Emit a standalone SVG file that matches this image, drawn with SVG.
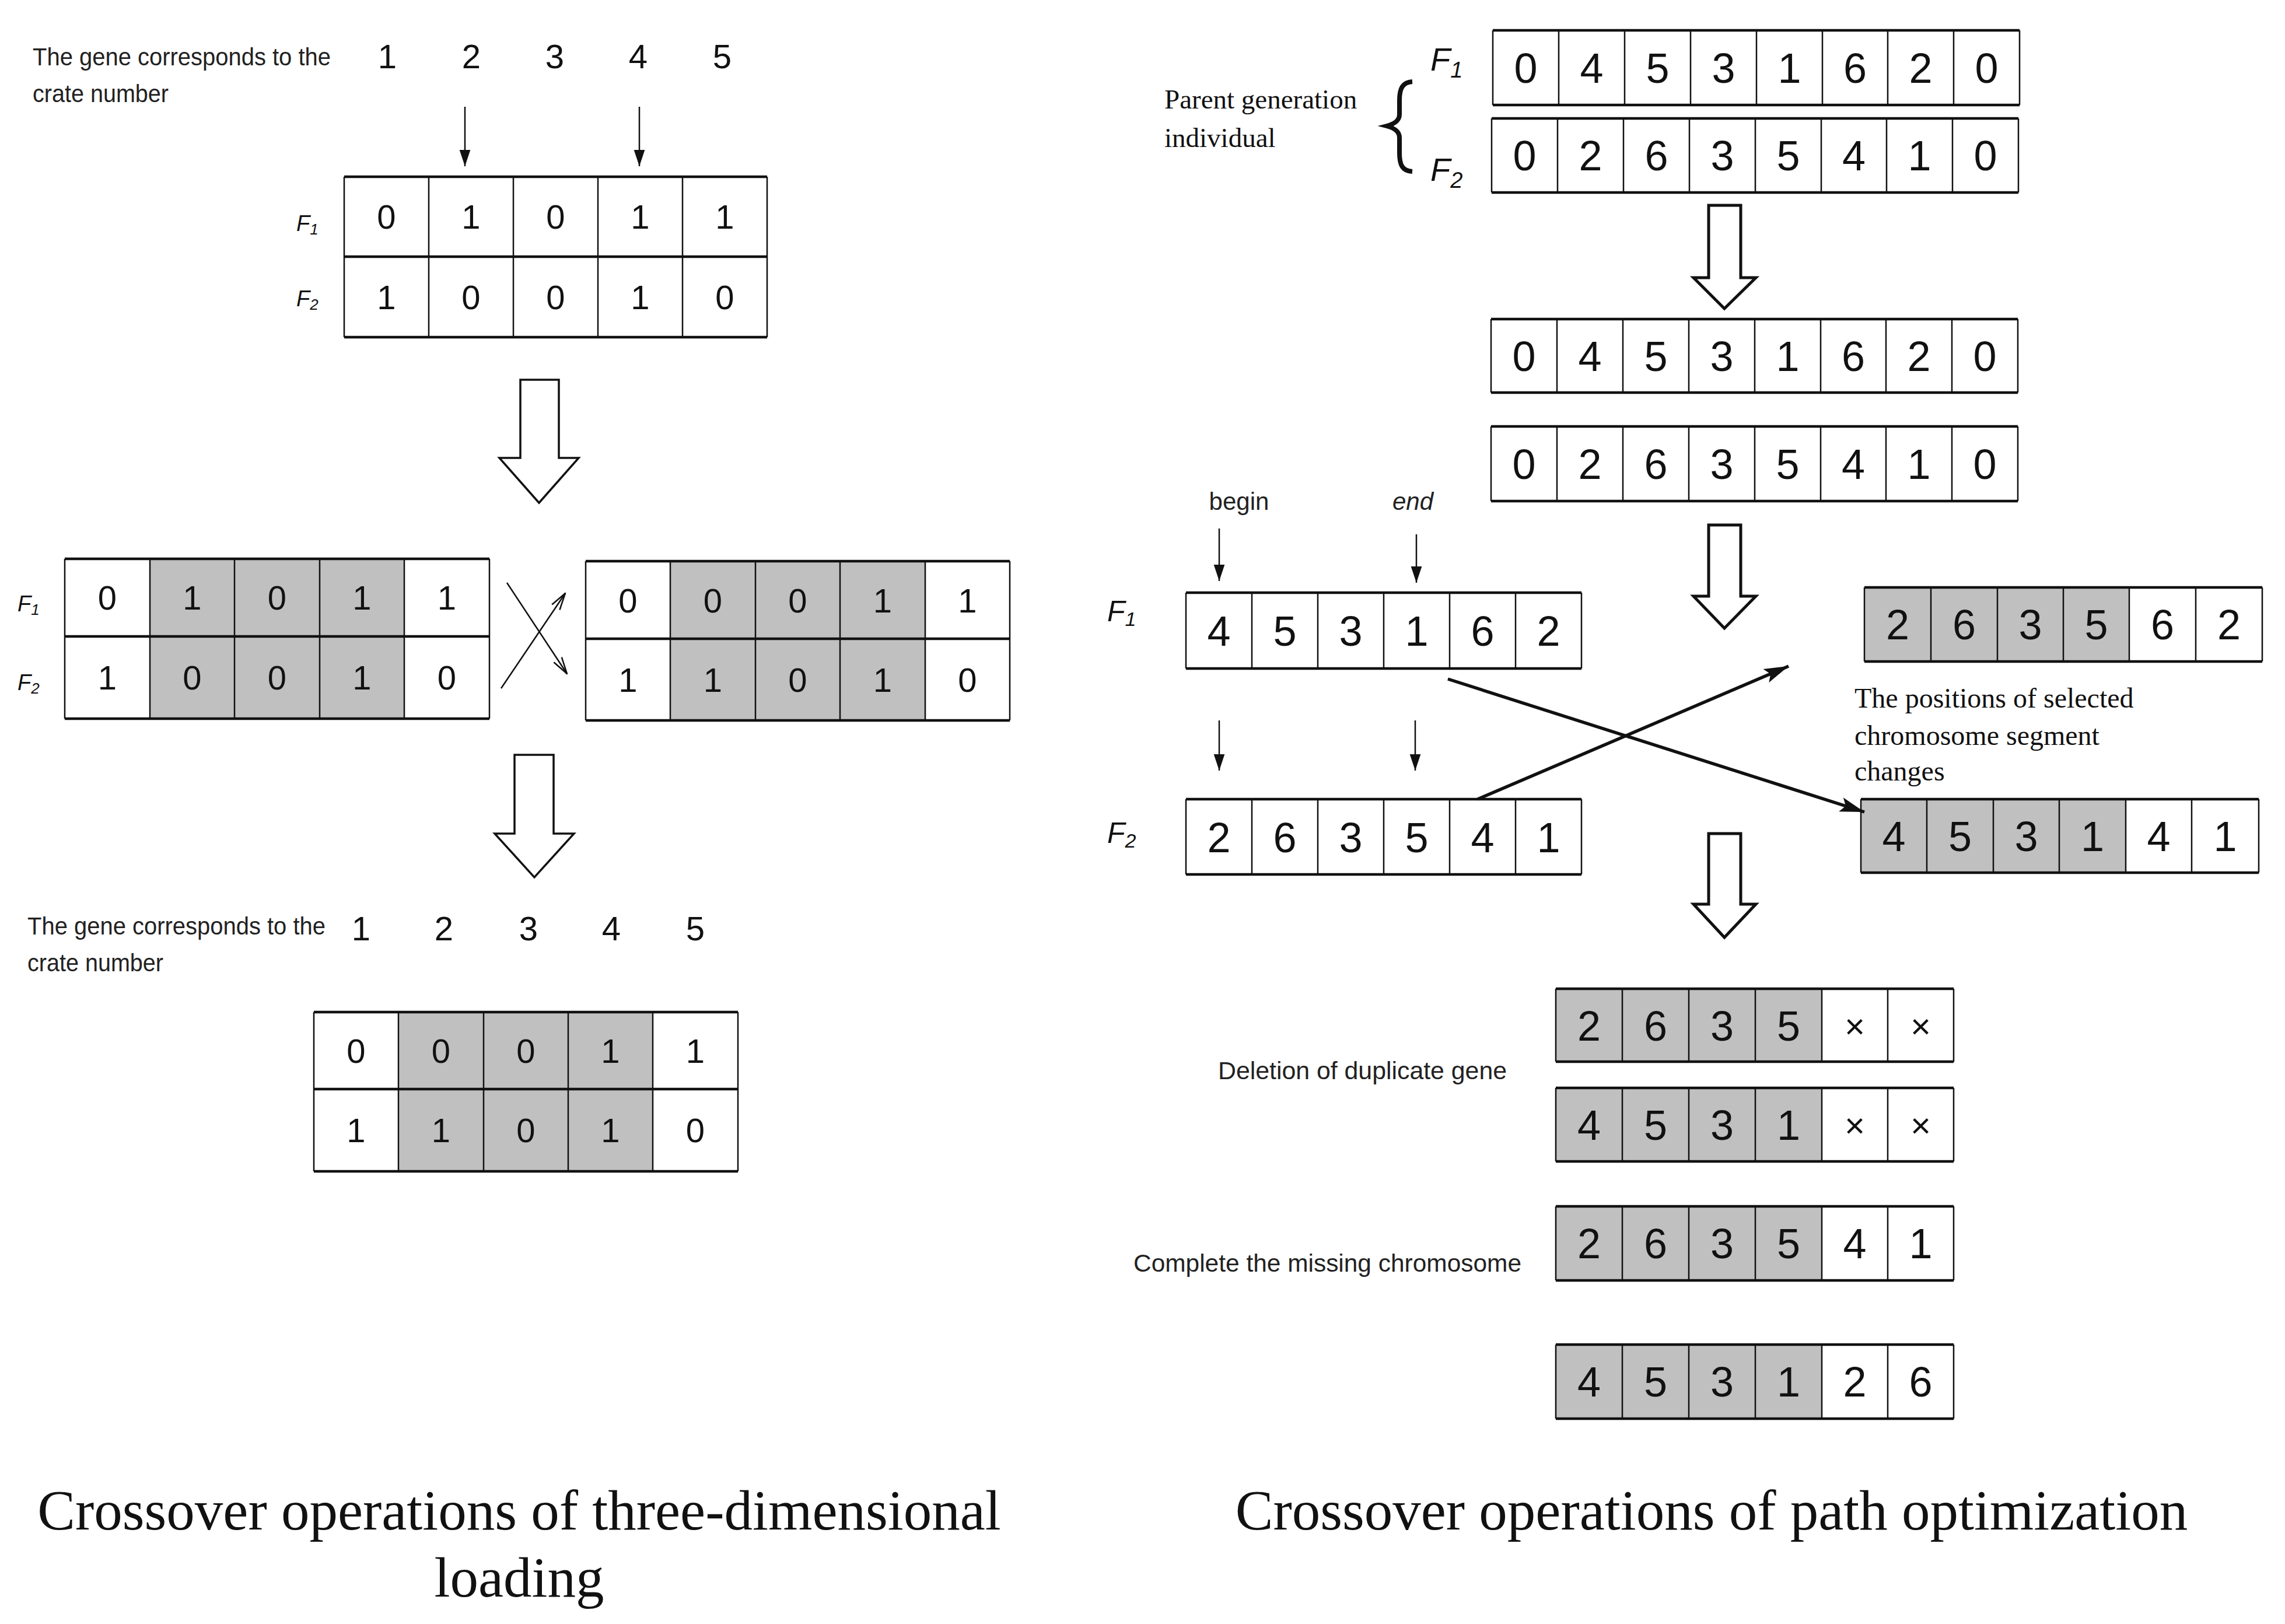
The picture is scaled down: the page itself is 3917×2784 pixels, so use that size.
<svg xmlns="http://www.w3.org/2000/svg" width="3917" height="2784" viewBox="0 0 3917 2784">
<style>
.d{font-family:"Liberation Sans",Arial,sans-serif;font-size:58px;text-anchor:middle;fill:#111}
.d2{font-size:72px}
.xx{font-size:60px}
.sans{font-family:"Liberation Sans",Arial,sans-serif;fill:#222}
.serif{font-family:"Liberation Serif","Times New Roman",serif;fill:#111}
.fl{font-family:"Liberation Sans",Arial,sans-serif;font-style:italic;fill:#111}
.gy{fill:#c0c0c0}
.h{stroke:#111;stroke-width:4.5;fill:none}
.v{stroke:#111;stroke-width:2.5;fill:none}
.ha{fill:#fff;stroke:#111;stroke-width:3.5}
.hb{fill:#fff;stroke:#111;stroke-width:5}
.thin{stroke:#111;stroke-width:2.5;fill:none}
.thick{stroke:#111;stroke-width:5.5;fill:none}
</style>
<defs>
<marker id="mf" viewBox="0 0 30 20" refX="30" refY="10" markerWidth="28" markerHeight="20" markerUnits="userSpaceOnUse" orient="auto"><path d="M0,0L30,10L0,20z" fill="#111"/></marker>
<marker id="mv" viewBox="0 0 30 20" refX="29" refY="10" markerWidth="30" markerHeight="20" markerUnits="userSpaceOnUse" orient="auto"><path d="M0,2L29,10L0,18" fill="none" stroke="#111" stroke-width="2.5"/></marker>
<marker id="mb" viewBox="0 0 40 24" refX="40" refY="12" markerWidth="42" markerHeight="26" markerUnits="userSpaceOnUse" orient="auto"><path d="M0,0L40,12L0,24L8,12z" fill="#111"/></marker>
</defs>
<rect width="3917" height="2784" fill="#fff"/>

<!-- LEFT PANEL -->
<g id="label-crate-top">
<text class="sans" x="56" y="112" font-size="42" textLength="511" lengthAdjust="spacingAndGlyphs">The gene corresponds to the</text>
<text class="sans" x="56" y="175" font-size="42" textLength="233" lengthAdjust="spacingAndGlyphs">crate number</text>
</g>
<g id="numbers-top">
<text class="d" x="664" y="117">1</text><text class="d" x="808" y="117">2</text><text class="d" x="951" y="117">3</text><text class="d" x="1094" y="117">4</text><text class="d" x="1238" y="117">5</text>
</g>
<g id="table-l1">
<path class="h" d="M590,303H1315M590,440H1315M590,578H1315"/>
<path class="v" d="M590,303V578M735,303V578M880,303V578M1025,303V578M1170,303V578M1315,303V578"/>
<text class="d" x="662.5" y="392">0</text><text class="d" x="807.5" y="392">1</text><text class="d" x="952.5" y="392">0</text><text class="d" x="1097.5" y="392">1</text><text class="d" x="1242.5" y="392">1</text>
<text class="d" x="662.5" y="530">1</text><text class="d" x="807.5" y="530">0</text><text class="d" x="952.5" y="530">0</text><text class="d" x="1097.5" y="530">1</text><text class="d" x="1242.5" y="530">0</text>
<text class="fl" x="508" y="396" font-size="38">F<tspan font-size="26" dy="6">1</tspan></text>
<text class="fl" x="508" y="525" font-size="38">F<tspan font-size="26" dy="6">2</tspan></text>
</g>
<g id="table-l2a">
<rect class="gy" x="257" y="958" width="436" height="274"/>
<path class="h" d="M111,958H839M111,1091H839M111,1232H839"/>
<path class="v" d="M111,958V1232M257,958V1232M402,958V1232M548,958V1232M693,958V1232M839,958V1232"/>
<text class="d" x="184" y="1045">0</text><text class="d" x="329.5" y="1045">1</text><text class="d" x="475" y="1045">0</text><text class="d" x="620.5" y="1045">1</text><text class="d" x="766" y="1045">1</text>
<text class="d" x="184" y="1182">1</text><text class="d" x="329.5" y="1182">0</text><text class="d" x="475" y="1182">0</text><text class="d" x="620.5" y="1182">1</text><text class="d" x="766" y="1182">0</text>
<text class="fl" x="30" y="1048" font-size="38">F<tspan font-size="26" dy="6">1</tspan></text>
<text class="fl" x="30" y="1183" font-size="38">F<tspan font-size="26" dy="6">2</tspan></text>
</g>
<g id="table-l2b">
<rect class="gy" x="1149" y="962" width="437" height="273"/>
<path class="h" d="M1004,962H1731M1004,1095H1731M1004,1235H1731"/>
<path class="v" d="M1004,962V1235M1149,962V1235M1295,962V1235M1440,962V1235M1586,962V1235M1731,962V1235"/>
<text class="d" x="1076.5" y="1050">0</text><text class="d" x="1222" y="1050">0</text><text class="d" x="1367.5" y="1050">0</text><text class="d" x="1513" y="1050">1</text><text class="d" x="1658.5" y="1050">1</text>
<text class="d" x="1076.5" y="1186">1</text><text class="d" x="1222" y="1186">1</text><text class="d" x="1367.5" y="1186">0</text><text class="d" x="1513" y="1186">1</text><text class="d" x="1658.5" y="1186">0</text>
</g>
<g id="label-crate-bottom">
<text class="sans" x="47" y="1602" font-size="42" textLength="511" lengthAdjust="spacingAndGlyphs">The gene corresponds to the</text>
<text class="sans" x="47" y="1665" font-size="42" textLength="233" lengthAdjust="spacingAndGlyphs">crate number</text>
</g>
<g id="numbers-bottom">
<text class="d" x="619" y="1612">1</text><text class="d" x="761" y="1612">2</text><text class="d" x="906" y="1612">3</text><text class="d" x="1048" y="1612">4</text><text class="d" x="1192" y="1612">5</text>
</g>
<g id="table-l3">
<rect class="gy" x="683" y="1735" width="436" height="273"/>
<path class="h" d="M538,1735H1265M538,1867H1265M538,2008H1265"/>
<path class="v" d="M538,1735V2008M683,1735V2008M829,1735V2008M974,1735V2008M1119,1735V2008M1265,1735V2008"/>
<text class="d" x="610.5" y="1822">0</text><text class="d" x="756" y="1822">0</text><text class="d" x="901.5" y="1822">0</text><text class="d" x="1046.5" y="1822">1</text><text class="d" x="1192" y="1822">1</text>
<text class="d" x="610.5" y="1958">1</text><text class="d" x="756" y="1958">1</text><text class="d" x="901.5" y="1958">0</text><text class="d" x="1046.5" y="1958">1</text><text class="d" x="1192" y="1958">0</text>
</g>

<!-- RIGHT PANEL -->
<g id="label-parent">
<text class="serif" x="1996" y="186" font-size="47" fill="#222">Parent generation</text>
<text class="serif" x="1996" y="252" font-size="47" fill="#222">individual</text>
<path d="M2421,140C2404,141 2399,152 2399,172L2399,196C2399,206 2392,212 2377,216C2392,220 2399,226 2399,236L2399,262C2399,283 2404,293 2421,294" fill="none" stroke="#111" stroke-width="8"/>
<text class="fl" x="2452" y="121" font-size="56">F<tspan font-size="38" dy="12">1</tspan></text>
<text class="fl" x="2452" y="310" font-size="56">F<tspan font-size="38" dy="12">2</tspan></text>
</g>
<g id="table-r1">
<path class="h" d="M2559,52H3462M2559,180H3462"/>
<path class="v" d="M2559,52V180M2672,52V180M2785,52V180M2898,52V180M3011,52V180M3124,52V180M3236,52V180M3349,52V180M3462,52V180"/>
<g class="d d2"><text x="2615.5" y="142">0</text><text x="2728.5" y="142">4</text><text x="2841.5" y="142">5</text><text x="2954.5" y="142">3</text><text x="3067.5" y="142">1</text><text x="3180" y="142">6</text><text x="3292.5" y="142">2</text><text x="3405.5" y="142">0</text></g>
</g>
<g id="table-r2">
<path class="h" d="M2557,203H3460M2557,330H3460"/>
<path class="v" d="M2557,203V330M2670,203V330M2783,203V330M2896,203V330M3009,203V330M3122,203V330M3234,203V330M3347,203V330M3460,203V330"/>
<g class="d d2"><text x="2613.5" y="292">0</text><text x="2726.5" y="292">2</text><text x="2839.5" y="292">6</text><text x="2952.5" y="292">3</text><text x="3065.5" y="292">5</text><text x="3178" y="292">4</text><text x="3290.5" y="292">1</text><text x="3403.5" y="292">0</text></g>
</g>
<g id="table-r3">
<path class="h" d="M2556,547H3459M2556,673H3459"/>
<path class="v" d="M2556,547V673M2669,547V673M2782,547V673M2895,547V673M3008,547V673M3121,547V673M3233,547V673M3346,547V673M3459,547V673"/>
<g class="d d2"><text x="2612.5" y="636">0</text><text x="2725.5" y="636">4</text><text x="2838.5" y="636">5</text><text x="2951.5" y="636">3</text><text x="3064.5" y="636">1</text><text x="3177" y="636">6</text><text x="3289.5" y="636">2</text><text x="3402.5" y="636">0</text></g>
</g>
<g id="table-r4">
<path class="h" d="M2556,731H3459M2556,859H3459"/>
<path class="v" d="M2556,731V859M2669,731V859M2782,731V859M2895,731V859M3008,731V859M3121,731V859M3233,731V859M3346,731V859M3459,731V859"/>
<g class="d d2"><text x="2612.5" y="821">0</text><text x="2725.5" y="821">2</text><text x="2838.5" y="821">6</text><text x="2951.5" y="821">3</text><text x="3064.5" y="821">5</text><text x="3177" y="821">4</text><text x="3289.5" y="821">1</text><text x="3402.5" y="821">0</text></g>
</g>
<g id="label-begin-end">
<text class="sans" x="2124" y="874" font-size="42" text-anchor="middle">begin</text>
<text class="sans" x="2422" y="874" font-size="42" text-anchor="middle" font-style="italic">end</text>
</g>
<g id="table-r5">
<path class="h" d="M2033,1016H2711M2033,1146H2711"/>
<path class="v" d="M2033,1016V1146M2146,1016V1146M2259,1016V1146M2372,1016V1146M2485,1016V1146M2598,1016V1146M2711,1016V1146"/>
<g class="d d2"><text x="2089.5" y="1107">4</text><text x="2202.5" y="1107">5</text><text x="2315.5" y="1107">3</text><text x="2428.5" y="1107">1</text><text x="2541.5" y="1107">6</text><text x="2654.5" y="1107">2</text></g>
<text class="fl" x="1898" y="1065" font-size="50">F<tspan font-size="34" dy="8">1</tspan></text>
</g>
<g id="table-r6">
<path class="h" d="M2033,1370H2711M2033,1499H2711"/>
<path class="v" d="M2033,1370V1499M2146,1370V1499M2259,1370V1499M2372,1370V1499M2485,1370V1499M2598,1370V1499M2711,1370V1499"/>
<g class="d d2"><text x="2089.5" y="1461">2</text><text x="2202.5" y="1461">6</text><text x="2315.5" y="1461">3</text><text x="2428.5" y="1461">5</text><text x="2541.5" y="1461">4</text><text x="2654.5" y="1461">1</text></g>
<text class="fl" x="1898" y="1445" font-size="50">F<tspan font-size="34" dy="8">2</tspan></text>
</g>
<g id="table-r7">
<rect class="gy" x="3196" y="1007" width="454" height="127"/>
<path class="h" d="M3196,1007H3878M3196,1134H3878"/>
<path class="v" d="M3196,1007V1134M3310,1007V1134M3424,1007V1134M3537,1007V1134M3650,1007V1134M3764,1007V1134M3878,1007V1134"/>
<g class="d d2"><text x="3253" y="1096">2</text><text x="3367" y="1096">6</text><text x="3480.5" y="1096">3</text><text x="3593.5" y="1096">5</text><text x="3707" y="1096">6</text><text x="3821" y="1096">2</text></g>
</g>
<g id="label-positions">
<text class="serif" x="3179" y="1213" font-size="48" fill="#3a3a3a">The positions of selected</text>
<text class="serif" x="3179" y="1277" font-size="48" fill="#3a3a3a">chromosome segment</text>
<text class="serif" x="3179" y="1338" font-size="48" fill="#3a3a3a">changes</text>
</g>
<g id="table-r8">
<rect class="gy" x="3190" y="1370" width="454" height="126"/>
<path class="h" d="M3190,1370H3872M3190,1496H3872"/>
<path class="v" d="M3190,1370V1496M3303,1370V1496M3417,1370V1496M3530,1370V1496M3644,1370V1496M3757,1370V1496M3872,1370V1496"/>
<g class="d d2"><text x="3246.5" y="1459">4</text><text x="3360" y="1459">5</text><text x="3473.5" y="1459">3</text><text x="3587" y="1459">1</text><text x="3700.5" y="1459">4</text><text x="3814.5" y="1459">1</text></g>
</g>
<g id="label-deletion">
<text class="sans" x="2088" y="1850" font-size="42" textLength="495" lengthAdjust="spacingAndGlyphs">Deletion of duplicate gene</text>
</g>
<g id="table-r9">
<rect class="gy" x="2667" y="1695" width="456" height="125"/>
<path class="h" d="M2667,1695H3349M2667,1820H3349"/>
<path class="v" d="M2667,1695V1820M2781,1695V1820M2895,1695V1820M3009,1695V1820M3123,1695V1820M3236,1695V1820M3349,1695V1820"/>
<g class="d d2"><text x="2724" y="1784">2</text><text x="2838" y="1784">6</text><text x="2952" y="1784">3</text><text x="3066" y="1784">5</text></g>
<g class="d xx"><text x="3179.5" y="1780">×</text><text x="3292.5" y="1780">×</text></g>
</g>
<g id="table-r10">
<rect class="gy" x="2667" y="1865" width="456" height="126"/>
<path class="h" d="M2667,1865H3349M2667,1991H3349"/>
<path class="v" d="M2667,1865V1991M2781,1865V1991M2895,1865V1991M3009,1865V1991M3123,1865V1991M3236,1865V1991M3349,1865V1991"/>
<g class="d d2"><text x="2724" y="1954">4</text><text x="2838" y="1954">5</text><text x="2952" y="1954">3</text><text x="3066" y="1954">1</text></g>
<g class="d xx"><text x="3179.5" y="1950">×</text><text x="3292.5" y="1950">×</text></g>
</g>
<g id="label-complete">
<text class="sans" x="1943" y="2180" font-size="42" textLength="665" lengthAdjust="spacingAndGlyphs">Complete the missing chromosome</text>
</g>
<g id="table-r11">
<rect class="gy" x="2667" y="2068" width="456" height="127"/>
<path class="h" d="M2667,2068H3349M2667,2195H3349"/>
<path class="v" d="M2667,2068V2195M2781,2068V2195M2895,2068V2195M3009,2068V2195M3123,2068V2195M3236,2068V2195M3349,2068V2195"/>
<g class="d d2"><text x="2724" y="2157">2</text><text x="2838" y="2157">6</text><text x="2952" y="2157">3</text><text x="3066" y="2157">5</text><text x="3179.5" y="2157">4</text><text x="3292.5" y="2157">1</text></g>
</g>
<g id="table-r12">
<rect class="gy" x="2667" y="2305" width="456" height="127"/>
<path class="h" d="M2667,2305H3349M2667,2432H3349"/>
<path class="v" d="M2667,2305V2432M2781,2305V2432M2895,2305V2432M3009,2305V2432M3123,2305V2432M3236,2305V2432M3349,2305V2432"/>
<g class="d d2"><text x="2724" y="2394">4</text><text x="2838" y="2394">5</text><text x="2952" y="2394">3</text><text x="3066" y="2394">1</text><text x="3179.5" y="2394">2</text><text x="3292.5" y="2394">6</text></g>
</g>

<!-- CAPTIONS -->
<g id="captions">
<text class="serif" x="890" y="2622" font-size="97" text-anchor="middle">Crossover operations of three-dimensional</text>
<text class="serif" x="890" y="2737" font-size="97" text-anchor="middle">loading</text>
<text class="serif" x="2934" y="2622" font-size="97" text-anchor="middle">Crossover operations of path optimization</text>
</g>

<!-- CONNECTORS -->
<g id="connectors">
<line class="thin" x1="797" y1="183" x2="797" y2="285" marker-end="url(#mf)"/>
<line class="thin" x1="1096" y1="183" x2="1096" y2="285" marker-end="url(#mf)"/>
<polygon class="ha" points="892,651 958,651 958,785 992,785 924,862 856,785 892,785"/>
<line class="thin" x1="869" y1="999" x2="972" y2="1155" marker-end="url(#mv)"/>
<line class="thin" x1="859" y1="1180" x2="969" y2="1017" marker-end="url(#mv)"/>
<polygon class="ha" points="882,1294 949,1294 949,1429 984,1429 916,1504 848,1429 882,1429"/>
<polygon class="hb" points="2929,352 2984,352 2984,476 3010,476 2956,529 2903,476 2929,476"/>
<polygon class="hb" points="2929,900 2984,900 2984,1022 3010,1022 2956,1077 2903,1022 2929,1022"/>
<polygon class="hb" points="2929,1429 2984,1429 2984,1550 3010,1550 2956,1607 2903,1550 2929,1550"/>
<line class="thin" x1="2090" y1="906" x2="2090" y2="996" marker-end="url(#mf)"/>
<line class="thin" x1="2428" y1="916" x2="2428" y2="999" marker-end="url(#mf)"/>
<line class="thin" x1="2090" y1="1235" x2="2090" y2="1321" marker-end="url(#mf)"/>
<line class="thin" x1="2426" y1="1235" x2="2426" y2="1321" marker-end="url(#mf)"/>
<line class="thick" x1="2482" y1="1164" x2="3196" y2="1392" marker-end="url(#mb)"/>
<line class="thick" x1="2533" y1="1370" x2="3066" y2="1142" marker-end="url(#mb)"/>
</g>
</svg>
